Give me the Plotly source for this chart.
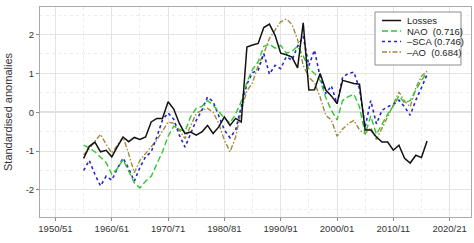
import plotly.graph_objects as go

years = list(range(1955, 2017))

losses = [-1.19, -0.88, -0.77, -1.02, -0.98, -1.15, -0.89, -0.64, -0.76, -0.65,
          -0.70, -0.64, -0.25, -0.16, -0.16, 0.27, 0.08, -0.29, -0.55, -0.51,
          -0.59, -0.51, -0.34, -0.55, -0.38, -0.12, -0.34, -0.16, -0.25, 1.68,
          1.73, 1.77, 2.18, 2.27, 1.98, 1.52, 1.48, 1.42, 1.14, 2.30,
          0.57, 0.58, 1.00, 0.57, 0.42, 0.22, 0.82, 0.78, 0.74, 0.72,
          -0.46, -0.46, -0.64, -0.77, -0.77, -0.98, -0.85, -1.19, -1.31, -1.11,
          -1.17, -0.74]

nao = [-0.85, -0.92, -1.02, -1.15, -1.30, -1.60, -1.45, -1.22, -1.50, -1.82,
       -1.95, -1.78, -1.65, -1.35, -1.02, -0.62, -0.36, -0.44, -0.50, -0.12,
       0.10, 0.15, 0.30, 0.18, 0.02, -0.15, -0.28, -0.05, 0.28, 0.78,
       1.10, 1.30, 1.70, 1.75, 1.65, 1.72, 1.52, 1.57, 1.70, 1.45,
       1.12, 1.00, 0.82, 0.38, 0.05, -0.20, 0.30, 0.40, 0.46, 0.14,
       -0.57, -0.10, -0.57, -0.29, -0.05, 0.16, 0.42, 0.24, 0.30, 0.57,
       0.82, 1.02]

sca = [-1.50, -1.24, -1.60, -1.90, -1.65, -1.75, -1.45, -1.18, -1.45, -1.78,
       -1.42, -1.15, -1.02, -0.64, -0.20, -0.02, -0.18, -0.59, -0.90, -0.55,
       -0.21, 0.05, 0.39, 0.27, -0.12, -0.46, -0.66, -0.46, 0.15, 0.72,
       1.02, 1.08, 1.51, 0.98, 1.21, 1.12, 1.43, 1.34, 1.70, 1.95,
       1.20, 1.60, 0.91, 0.48, 0.68, 0.22, 0.90, 1.00, 1.03, 0.60,
       -0.38, 0.30, -0.30, 0.05, 0.14, 0.20, 0.31, 0.14, -0.08, 0.31,
       0.63, 0.97]

ao = [-1.10, -0.94, -0.75, -0.57, -0.83, -1.05, -0.85, -0.64, -1.07, -1.56,
      -1.24, -1.05, -0.89, -0.72, -0.50, -0.25, -0.29, -0.46, -0.68, -0.34,
      -0.03, 0.05, 0.10, 0.00, -0.29, -0.72, -1.02, -0.64, 0.05, 0.55,
      0.76, 1.20, 1.51, 1.90, 2.12, 2.33, 2.40, 2.26, 1.87, 1.20,
      0.90, 0.76, 0.39, -0.08, -0.20, -0.62, -0.43, -0.30, -0.21, -0.46,
      -0.55, -0.40, -0.70, -0.42, -0.12, 0.20, 0.52, 0.28, 0.14, 0.63,
      0.92, 1.06]

x_tickvals = [1950, 1960, 1970, 1980, 1990, 2000, 2010, 2020]
x_ticktext = ["1950/51", "1960/61", "1970/71", "1980/81", "1990/91", "2000/01", "2010/11", "2020/21"]
y_tickvals = [-2, -1, 0, 1, 2]
y_ticktext = ["-2", "-1", "0", "1", "2"]

series_names = ["Losses", "NAO\u00a0 (0.716)", "\u2013SCA (0.746)", "\u2013AO\u00a0 (0.684)"]
series_data = [losses, nao, sca, ao]
series_colors = ["#111111", "#2ec82e", "#2626c8", "#a08a3c"]
series_dash = ["solid", "6px,3px", "dot", "5px,2px,1.5px,2px"]
series_width = [1.5, 1.4, 1.6, 1.4]

W, H = 474, 243
ML, MR, MT, MB = 40, 3, 7, 26
PW, PH = W - ML - MR, H - MT - MB

def px_x(p):
    return (p - ML) / PW

def px_y(p):
    return (H - MB - p) / PH

fig = go.Figure()
for i in [3, 2, 1, 0]:
    fig.add_trace(go.Scatter(x=years, y=series_data[i], mode="lines", name=series_names[i],
                             showlegend=False,
                             line=dict(color=series_colors[i], width=series_width[i],
                                       dash=series_dash[i])))

axis_font = dict(family="Arial, Liberation Sans, sans-serif", size=9.5, color="#333333")

fig.update_layout(
    width=W, height=H,
    margin=dict(l=ML, r=MR, t=MT, b=MB),
    paper_bgcolor="white", plot_bgcolor="white",
    font=axis_font,
    showlegend=False,
    xaxis=dict(range=[1947.25, 2023.8], tickvals=x_tickvals, ticktext=x_ticktext,
               showgrid=True, gridcolor="#e3e3e3", gridwidth=1,
               minor=dict(dtick=5, tick0=1950, showgrid=True, gridcolor="#ececec", griddash="dot"),
               ticks="outside", ticklen=3, tickcolor="#888888",
               showline=True, linecolor="#aaaaaa", mirror=True, zeroline=False),
    yaxis=dict(range=[-2.7, 2.71], tickvals=y_tickvals, ticktext=y_ticktext,
               showgrid=True, gridcolor="#e3e3e3", gridwidth=1,
               minor=dict(dtick=0.5, tick0=0, showgrid=True, gridcolor="#ececec", griddash="dot"),
               ticks="outside", ticklen=3, tickcolor="#888888",
               showline=True, linecolor="#aaaaaa", mirror=True, zeroline=False,
               title=dict(text="Standardised anomalies", standoff=10,
                          font=dict(family="Arial, Liberation Sans, sans-serif", size=11, color="#333333"))),
)

# zero reference line
fig.add_shape(type="line", xref="paper", yref="y", x0=0, x1=1, y0=0, y1=0,
              line=dict(color="#999999", width=1), layer="below")

# custom compact legend (layout decoration)
fig.add_shape(type="rect", xref="paper", yref="paper",
              x0=px_x(375), x1=px_x(461), y0=px_y(65), y1=px_y(12),
              fillcolor="white", opacity=1, line=dict(color="#8c8c8c", width=1), layer="above")
row_y = [20.5, 31, 41.5, 52]
for i in range(4):
    fig.add_shape(type="line", xref="paper", yref="paper",
                  x0=px_x(382), x1=px_x(401), y0=px_y(row_y[i]), y1=px_y(row_y[i]),
                  line=dict(color=series_colors[i], width=series_width[i], dash=series_dash[i]),
                  layer="above")
    fig.add_annotation(xref="paper", yref="paper", x=px_x(405), y=px_y(row_y[i]),
                       xanchor="left", yanchor="middle", text=series_names[i],
                       showarrow=False,
                       font=dict(family="Arial, Liberation Sans, sans-serif", size=9.5,
                                 color="#222222"))

fig.write_html("out.html")
